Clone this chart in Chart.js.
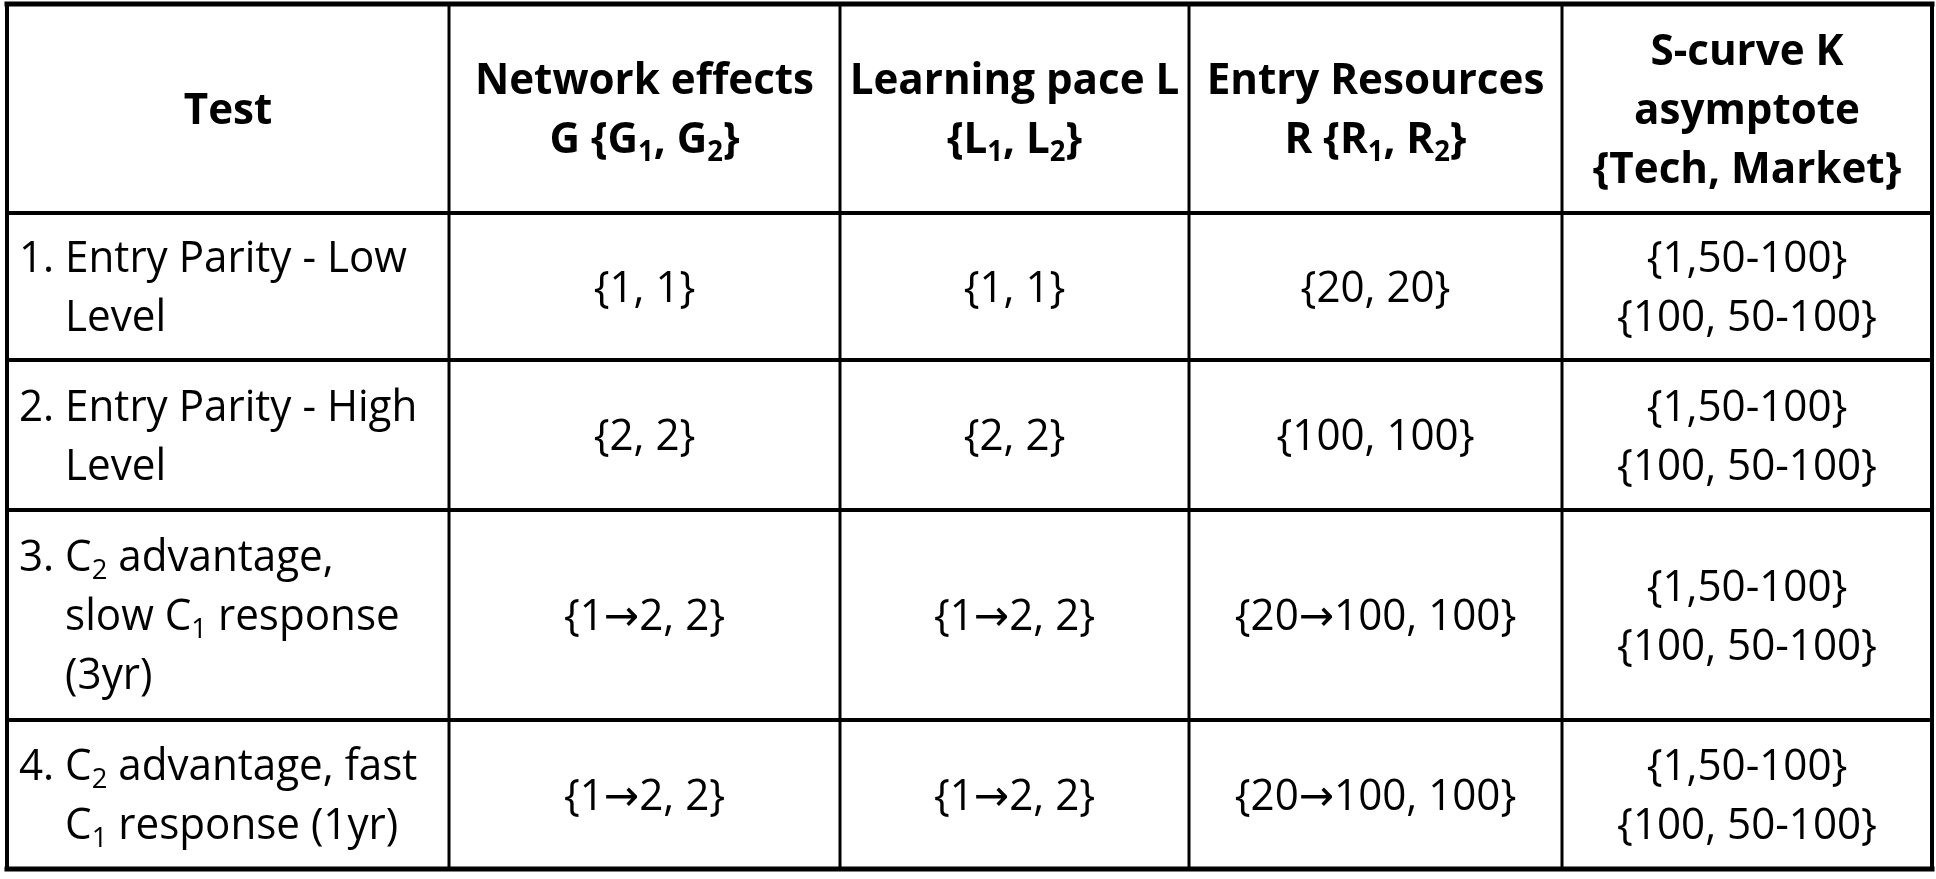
<!DOCTYPE html>
<html><head><meta charset="utf-8">
<script src="https://cdn.jsdelivr.net/npm/chart.js@4"></script>
<style>html,body{margin:0;padding:0;background:#fff;overflow:hidden}</style>
</head><body>
<canvas id="c" width="1936" height="879"></canvas>
<script>
// ---- data ----
const headers = [["Test"], ["Network effects", "G {G_1, G_2}"], ["Learning pace L", "{L_1, L_2}"], ["Entry Resources", "R {R_1, R_2}"], ["S-curve K", "asymptote", "{Tech, Market}"]];
const testNames = [["1. Entry Parity - Low", "Level"], ["2. Entry Parity - High", "Level"], ["3. C_2 advantage,", "slow C_1 response", "(3yr)"], ["4. C_2 advantage, fast", "C_1 response (1yr)"]];
const networkG = ["{1, 1}", "{2, 2}", "{1→2, 2}", "{1→2, 2}"];
const learningL = ["{1, 1}", "{2, 2}", "{1→2, 2}", "{1→2, 2}"];
const resources = ["{20, 20}", "{100, 100}", "{20→100, 100}", "{20→100, 100}"];
const sCurveK = [["{1,50-100}", "{100, 50-100}"], ["{1,50-100}", "{100, 50-100}"], ["{1,50-100}", "{100, 50-100}"], ["{1,50-100}", "{100, 50-100}"]];

const colX = [7, 449, 840, 1189, 1562, 1932];
const rowY = [4, 213, 360, 510, 720, 869];
const FS = 43, LH = 59, SX = 0.98;
const FAM = '"Open Sans",sans-serif';

function segs(s){ // split "_x" subscripts and arrows
  const out=[]; let i=0, buf='';
  while(i<s.length){
    if(s[i]==='_'){ if(buf)out.push([buf,0]); buf=''; out.push([s[i+1],1]); i+=2;}
    else if(s[i]==='→'){ if(buf)out.push([buf,0]); buf=''; out.push(['→',2]); i++;}
    else {buf+=s[i];i++;} }
  if(buf)out.push([buf,0]); return out;
}
function font(bold,k){
  if(k===2) return FS+'px "DejaVu Sans",sans-serif';
  return (bold?'bold ':'')+(k===1?Math.round(FS*0.65):FS)+'px '+FAM;}
function width(ctx,s,bold){let w=0;for(const [t,k] of segs(s)){ctx.font=font(bold,k);w+=ctx.measureText(t).width;}return w*SX;}
function drawLine(ctx,s,x,y,bold){
  for(const [t,k] of segs(s)){ctx.font=font(bold,k);
    ctx.save();ctx.translate(x,y+(k===1?FS*0.18:0));ctx.scale(SX,1);ctx.fillText(t,0,0);ctx.restore();
    x+=ctx.measureText(t).width*SX;}
}
function drawCell(ctx,lines,ci,ri,bold,align){
  const x0=colX[ci],x1=colX[ci+1],y0=rowY[ri],y1=rowY[ri+1];
  const cy=(y0+y1)/2, n=lines.length;
  lines.forEach((ln,k)=>{
    const y=cy+(k-(n-1)/2)*LH+FS*0.36;
    let x;
    if(align==='left'){ x=x0+12; if(k>0) x+=width(ctx,lines[0].split(' ')[0]+' ',bold); }
    else x=(x0+x1)/2-width(ctx,ln,bold)/2;
    drawLine(ctx,ln,x,y,bold);
  });
}
const tablePlugin={id:'table',afterDraw(chart){
  const ctx=chart.ctx; ctx.save(); ctx.fillStyle='#000'; ctx.textBaseline='alphabetic';
  headers.forEach((h,i)=>drawCell(ctx,h,i,0,true,'center'));
  testNames.forEach((t,r)=>drawCell(ctx,t,0,r+1,false,'left'));
  const cols=[networkG,learningL,resources];
  cols.forEach((c,ci)=>c.forEach((v,r)=>drawCell(ctx,[v],ci+1,r+1,false,'center')));
  sCurveK.forEach((v,r)=>drawCell(ctx,v,4,r+1,false,'center'));
  ctx.strokeStyle='#000'; ctx.lineCap='square';
  colX.forEach((x,i)=>{ctx.lineWidth=(i===0||i===colX.length-1)?4:3;ctx.beginPath();ctx.moveTo(x,rowY[0]);ctx.lineTo(x,rowY[rowY.length-1]);ctx.stroke();});
  rowY.forEach((y,i)=>{ctx.lineWidth=(i===0||i===rowY.length-1)?5:4;ctx.beginPath();ctx.moveTo(colX[0],y);ctx.lineTo(colX[colX.length-1],y);ctx.stroke();});
  ctx.restore();
}};
new Chart(document.getElementById('c'),{
  type:'scatter',
  data:{datasets:[{data:[]}]},
  options:{responsive:false,animation:false,devicePixelRatio:1,
    layout:{padding:0},
    plugins:{legend:{display:false},tooltip:{enabled:false}},
    scales:{x:{display:false,min:0,max:1936},y:{display:false,min:0,max:879}}},
  plugins:[tablePlugin]
});
</script>
</body></html>
